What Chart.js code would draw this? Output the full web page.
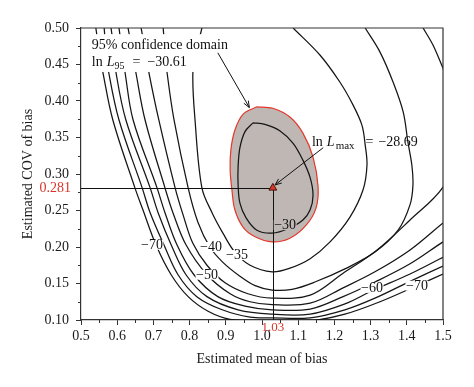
<!DOCTYPE html>
<html><head><meta charset="utf-8">
<script src="https://cdn.jsdelivr.net/npm/chart.js@4.4.0/dist/chart.umd.min.js"></script>
<style>html,body{margin:0;padding:0;background:#fff;}canvas{display:block;}</style>
</head><body>
<canvas id="c" width="474" height="387"></canvas>
<script>
const SERIF = '"Liberation Serif","DejaVu Serif",serif';

// Tick values
const xTickValues = [0.5,0.6,0.7,0.8,0.9,1.0,1.1,1.2,1.3,1.4,1.5];
const yTickValues = [0.10,0.15,0.20,0.25,0.30,0.35,0.40,0.45,0.50];

// Maximum-likelihood estimates
const mleMean = 1.03;
const mleCov = 0.281;
const lnL95Text = '−30.61';
const lnLmaxText = '−28.69';

// Contour lines of ln L (x = mean of bias, y = COV of bias)
const conf95 = [[0.986,0.392],[1.030,0.390],[1.077,0.378],[1.113,0.356],[1.141,0.323],[1.155,0.282],[1.149,0.253],[1.122,0.230],[1.077,0.212],[1.028,0.207],[0.981,0.214],[0.948,0.227],[0.925,0.251],[0.917,0.278],[0.912,0.305],[0.914,0.333],[0.925,0.360],[0.948,0.382],[0.986,0.392]];
const cM30 = [[0.975,0.370],[1.008,0.368],[1.050,0.359],[1.086,0.342],[1.113,0.319],[1.133,0.295],[1.141,0.271],[1.133,0.251],[1.113,0.237],[1.072,0.225],[1.028,0.219],[0.986,0.223],[0.956,0.240],[0.939,0.260],[0.934,0.285],[0.934,0.310],[0.939,0.336],[0.953,0.358],[0.975,0.370]];
const cM35 = [[0.834,0.5],[0.820,0.470],[0.809,0.438],[0.815,0.374],[0.834,0.281],[0.862,0.247],[0.892,0.219],[0.925,0.193],[0.967,0.175],[1.028,0.166],[1.077,0.171],[1.133,0.184],[1.188,0.207],[1.243,0.241],[1.279,0.278],[1.290,0.312],[1.285,0.340],[1.276,0.367],[1.251,0.395],[1.215,0.426],[1.160,0.463],[1.086,0.5]];
const cM40 = [[0.727,0.5],[0.732,0.470],[0.738,0.438],[0.757,0.374],[0.796,0.281],[0.823,0.234],[0.856,0.200],[0.892,0.179],[0.939,0.160],[0.981,0.147],[1.028,0.141],[1.083,0.142],[1.146,0.152],[1.229,0.170],[1.312,0.193],[1.376,0.223],[1.409,0.258],[1.417,0.285],[1.414,0.312],[1.403,0.344],[1.390,0.385],[1.362,0.426],[1.326,0.467],[1.285,0.5]];
const cM45 = [[0.666,0.5],[0.677,0.470],[0.688,0.438],[0.715,0.374],[0.760,0.281],[0.782,0.244],[0.809,0.205],[0.848,0.175],[0.898,0.151],[0.961,0.136],[1.028,0.130],[1.133,0.134],[1.224,0.164],[1.318,0.196],[1.409,0.237],[1.5,0.282],[1.575,0.36],[1.5,0.445],[1.472,0.477],[1.445,0.5]];
const cM50 = [[0.630,0.5],[0.641,0.470],[0.652,0.438],[0.677,0.374],[0.732,0.281],[0.754,0.247],[0.790,0.203],[0.848,0.162],[0.912,0.136],[0.967,0.125],[1.028,0.121],[1.133,0.123],[1.224,0.144],[1.312,0.166],[1.409,0.196],[1.5,0.233],[1.547,0.251]];
const cM55 = [[0.605,0.5],[0.613,0.470],[0.622,0.438],[0.644,0.374],[0.710,0.281],[0.732,0.247],[0.765,0.203],[0.812,0.162],[0.878,0.132],[0.953,0.119],[1.028,0.114],[1.133,0.115],[1.224,0.132],[1.312,0.152],[1.409,0.177],[1.5,0.207],[1.547,0.221]];
const cM60 = [[0.583,0.5],[0.591,0.470],[0.597,0.438],[0.624,0.374],[0.691,0.281],[0.713,0.247],[0.749,0.203],[0.790,0.162],[0.848,0.132],[0.934,0.114],[1.028,0.108],[1.133,0.108],[1.229,0.122],[1.304,0.140],[1.409,0.163],[1.5,0.186],[1.547,0.199]];
const cM65 = [[0.564,0.5],[0.569,0.470],[0.577,0.438],[0.605,0.374],[0.669,0.281],[0.691,0.247],[0.729,0.203],[0.768,0.162],[0.820,0.132],[0.890,0.114],[0.967,0.104],[1.028,0.103],[1.133,0.103],[1.229,0.114],[1.312,0.130],[1.409,0.153],[1.5,0.174],[1.547,0.185]];
const cM70 = [[0.541,0.5],[0.550,0.470],[0.561,0.438],[0.588,0.374],[0.649,0.281],[0.671,0.251],[0.707,0.203],[0.749,0.162],[0.796,0.132],[0.851,0.112],[0.912,0.101],[1.028,0.097],[1.133,0.0986],[1.229,0.108],[1.326,0.125],[1.428,0.147],[1.5,0.163],[1.547,0.174]];

// Contour label texts
const contourLabelTexts = ['−70','−40','−35','−50','−30','−60','−70'];

// ---------- layout / annotation configuration ----------
const contourLabelAnchors = [[0.696,0.203],[0.859,0.200],[0.931,0.189],[0.848,0.162],[1.064,0.230],[1.304,0.144],[1.428,0.147]];
const contourLabelBg = ['#fff','#fff','#fff','#fff','#bfb7b4','#fff','#fff'];

const toPts = a => a.map(([x, y]) => ({x, y}));
const contourDs = a => ({data: toPts(a), showLine: true, pointRadius: 0, borderColor: '#151515', borderWidth: 1.25, tension: 0.35, fill: false});

const datasets = [
  {data: [{x: mleMean, y: mleCov}], pointStyle: 'triangle', pointRadius: 4.5, backgroundColor: '#d8382c', borderColor: '#4a120c', borderWidth: 1},
  contourDs(cM35), contourDs(cM40), contourDs(cM45), contourDs(cM50), contourDs(cM55), contourDs(cM60), contourDs(cM65), contourDs(cM70),
  contourDs(cM30),
  {data: toPts(conf95), showLine: true, pointRadius: 0, borderColor: '#e3392b', borderWidth: 1.2, backgroundColor: '#bfb7b4', fill: 'shape', tension: 0.35}
];
const CONF_INDEX = datasets.length - 1;

function drawRich(ctx, px, py, parts) {
  let cx = px;
  ctx.textAlign = 'left'; ctx.textBaseline = 'alphabetic';
  for (const p of parts) {
    cx += p.pre || 0;
    ctx.font = p.f;
    ctx.fillText(p.t, cx, py + (p.dy || 0));
    cx += ctx.measureText(p.t).width + (p.post || 0);
  }
  return cx - px;
}
function arrow(ctx, x1, y1, x2, y2) {
  ctx.beginPath(); ctx.moveTo(x1, y1); ctx.lineTo(x2, y2); ctx.stroke();
  const ang = Math.atan2(y2 - y1, x2 - x1), L = 7, sp = 0.38;
  ctx.beginPath();
  ctx.moveTo(x2 - L * Math.cos(ang - sp), y2 - L * Math.sin(ang - sp));
  ctx.lineTo(x2, y2);
  ctx.lineTo(x2 - L * Math.cos(ang + sp), y2 - L * Math.sin(ang + sp));
  ctx.stroke();
}

const overlay = {
  id: 'overlay',
  afterDatasetDraw(chart, args) {
    if (args.index !== CONF_INDEX) return;
    // crosshair lines to the estimates, drawn over the confidence fill
    const {ctx, chartArea: a, scales: {x, y}} = chart;
    const px = Math.round(x.getPixelForValue(mleMean)) + 0.5;
    const py = Math.round(y.getPixelForValue(mleCov)) + 0.5;
    ctx.save();
    ctx.strokeStyle = '#111'; ctx.lineWidth = 1;
    ctx.beginPath();
    ctx.moveTo(a.left, py); ctx.lineTo(px, py);
    ctx.moveTo(px, py); ctx.lineTo(px, a.bottom);
    ctx.stroke();
    ctx.restore();
  },
  afterDatasetsDraw(chart) {
    const {ctx, chartArea: a, scales: {x, y}} = chart;
    const N14 = '14px ' + SERIF, I14 = 'italic 14px ' + SERIF;
    ctx.save();
    // contour labels
    contourLabelTexts.forEach((t, i) => {
      const px = x.getPixelForValue(contourLabelAnchors[i][0]);
      const py = y.getPixelForValue(contourLabelAnchors[i][1]);
      ctx.font = N14;
      const w = ctx.measureText(t).width;
      ctx.fillStyle = contourLabelBg[i];
      ctx.fillRect(px - w / 2 - 0.5, py - 5, w + 1, 10);
      ctx.fillStyle = '#111'; ctx.textAlign = 'center'; ctx.textBaseline = 'middle';
      ctx.fillText(t, px, py + 0.5);
    });
    // confidence domain annotation
    const tx = x.getPixelForValue(0.530);
    const b1 = y.getPixelForValue(0.471), b2 = y.getPixelForValue(0.448);
    ctx.font = N14;
    const w1 = ctx.measureText('95% confidence domain').width;
    ctx.fillStyle = '#fff';
    ctx.fillRect(tx - 3, b1 - 15, w1 + 7, b2 - b1 + 21);
    ctx.fillStyle = '#111';
    drawRich(ctx, tx, b1, [{t: '95% confidence domain', f: N14}]);
    drawRich(ctx, tx, b2, [{t: 'ln', f: N14, post: 4}, {t: 'L', f: I14}, {t: '95', f: '10px ' + SERIF, dy: 3}, {t: '=', f: N14, pre: 8, post: 7}, {t: lnL95Text, f: N14}]);
    ctx.strokeStyle = '#111'; ctx.lineWidth = 1;
    arrow(ctx, x.getPixelForValue(0.878), y.getPixelForValue(0.466), x.getPixelForValue(0.965), y.getPixelForValue(0.391));
    // max annotation
    drawRich(ctx, x.getPixelForValue(1.138), y.getPixelForValue(0.338), [{t: 'ln', f: N14, post: 4}, {t: 'L', f: I14, post: 1}, {t: 'max', f: '11px ' + SERIF, dy: 3}, {t: '=', f: N14, pre: 11, post: 5}, {t: lnLmaxText, f: N14}]);
    arrow(ctx, x.getPixelForValue(1.169), y.getPixelForValue(0.336), x.getPixelForValue(1.036), y.getPixelForValue(0.285));
    // frame top/right
    ctx.strokeStyle = '#333'; ctx.lineWidth = 1.2;
    ctx.beginPath(); ctx.moveTo(a.left, a.top); ctx.lineTo(a.right, a.top); ctx.lineTo(a.right, a.bottom); ctx.stroke();
    // minor ticks
    ctx.lineWidth = 1;
    for (let i = 0; i < yTickValues.length - 1; i++) {
      const py = Math.round(y.getPixelForValue((yTickValues[i] + yTickValues[i + 1]) / 2)) + 0.5;
      ctx.beginPath(); ctx.moveTo(a.left, py); ctx.lineTo(a.left - 3, py); ctx.stroke();
    }
    for (let i = 0; i < xTickValues.length - 1; i++) {
      const px = Math.round(x.getPixelForValue((xTickValues[i] + xTickValues[i + 1]) / 2)) + 0.5;
      ctx.beginPath(); ctx.moveTo(px, a.bottom); ctx.lineTo(px, a.bottom + 3); ctx.stroke();
    }
    // red estimate labels
    ctx.fillStyle = '#d8352a';
    ctx.font = N14; ctx.textAlign = 'right'; ctx.textBaseline = 'middle';
    ctx.fillText(String(mleCov), a.left - 10, y.getPixelForValue(mleCov));
    ctx.font = '13px ' + SERIF; ctx.textAlign = 'center';
    ctx.fillText(mleMean.toFixed(2), x.getPixelForValue(mleMean), a.bottom + 8);
    ctx.restore();
  }
};

new Chart(document.getElementById('c'), {
  type: 'scatter',
  data: {datasets},
  options: {
    responsive: false, animation: false, devicePixelRatio: 1,
    layout: {padding: {left: 0, right: 31, top: 28, bottom: 0}},
    plugins: {legend: {display: false}, tooltip: {enabled: false}},
    scales: {
      x: {
        type: 'linear', min: 0.5, max: 1.5,
        afterBuildTicks: s => { s.ticks = xTickValues.map(v => ({value: v})); },
        ticks: {callback: v => v.toFixed(1), font: {family: SERIF, size: 14}, color: '#1a1a1a', padding: 3, maxRotation: 0, autoSkip: false},
        grid: {display: true, drawOnChartArea: false, drawTicks: true, tickLength: 5, color: '#333', tickColor: '#333', lineWidth: 1},
        border: {display: true, color: '#333', width: 1.2},
        title: {display: true, text: 'Estimated mean of bias', font: {family: SERIF, size: 14}, color: '#1a1a1a', padding: {top: 0, bottom: 19}},
        afterFit: s => { s.height = 67; }
      },
      y: {
        type: 'linear', min: 0.1, max: 0.5,
        afterBuildTicks: s => { s.ticks = yTickValues.map(v => ({value: v})); },
        ticks: {callback: v => v.toFixed(2), font: {family: SERIF, size: 14}, color: '#1a1a1a', padding: 7, autoSkip: false},
        grid: {display: true, drawOnChartArea: false, drawTicks: true, tickLength: 5, color: '#333', tickColor: '#333', lineWidth: 1},
        border: {display: true, color: '#333', width: 1.2},
        title: {display: true, text: 'Estimated COV of bias', font: {family: SERIF, size: 14}, color: '#1a1a1a', padding: {top: 20, bottom: 0}},
        afterFit: s => { s.width = 81; }
      }
    }
  },
  plugins: [overlay]
});
</script>
</body></html>
